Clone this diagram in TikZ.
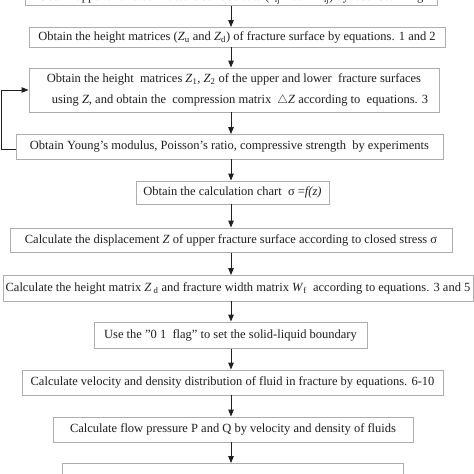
\documentclass[tikz,border=0pt]{standalone}
\usepackage{fontspec}
\setmainfont{Liberation Serif}
\usetikzlibrary{arrows.meta}

\tikzset{
  box/.style={draw=black!32, line width=0.9pt, inner sep=1pt, text=black!88,
    font=\fontsize{12.5}{21.5}\selectfont},
  arr/.style={-{Triangle[length=7pt,width=5.5pt]}, line width=1pt, black!88}
}
\newcommand{\Zit}{\textit{Z}}

\begin{document}
\begin{tikzpicture}[x=1pt, y=-1pt]
\clip (0,0) rectangle (474,474);
\fill[white] (0,0) rectangle (474,474);
\coordinate (ax) at (231,0);
% boxes
\node[box, minimum width=412pt, minimum height=14pt] (b0) at (231,-2) {Obtain upper and lower fracture surface data (\textit{x}\textsubscript{ij} matrix \textit{z}\textsubscript{ij}) by laser scanning};
\node[box, minimum width=416pt, minimum height=19.5pt] (b1) at (237,37.25) {Obtain the height matrices (\Zit\textsubscript{u} and \Zit\textsubscript{d}) of fracture surface by equations. 1 and 2};
\node[box, minimum width=410pt, minimum height=44pt, align=center] (b2) at (234,90) {Obtain the height\ \ matrices \Zit\textsubscript{1}, \Zit\textsubscript{2} of the upper and lower\ \ fracture surfaces\\ \hspace*{12pt}using \Zit, and obtain the\ \ compression matrix\ \ $\triangle$\Zit\ according to\ \ equations. 3};
\node[box, minimum width=427pt, minimum height=24.5pt] (b3) at (229.5,146.75) {Obtain Young's modulus, Poisson's ratio, compressive strength\ \ by experiments};
\node[box, minimum width=193pt, minimum height=23pt] (b4) at (232.5,192.5) {Obtain the calculation chart\ \ σ =\textit{f(z)}};
\node[box, minimum width=442pt, minimum height=24.5pt] (b5) at (231,240.25) {Calculate the displacement \Zit\ of upper fracture surface according to closed stress σ};
\node[box, minimum width=470pt, minimum height=25.5pt] (b6) at (238,288.25) {Calculate the height matrix \Zit\,\textsubscript{d} and fracture width matrix \textit{W}\textsubscript{f}\ \ according to equations. 3 and 5};
\node[box, minimum width=273pt, minimum height=26.5pt] (b7) at (230.5,335.25) {Use the "0 1\ \ flag" to set the solid-liquid boundary};
\node[box, minimum width=421pt, minimum height=25pt] (b8) at (232.5,382.5) {Calculate velocity and density distribution of fluid in fracture by equations. 6-10};
\node[box, minimum width=360pt, minimum height=25pt] (b9) at (233,429.5) {Calculate flow pressure P and Q by velocity and density of fluids};
\node[box, minimum width=341pt, minimum height=25pt] (b10) at (232.5,476) {};
% connectors
\draw[arr] (b0.south -| ax) -- (b1.north -| ax);
\draw[arr] (b1.south -| ax) -- (b2.north -| ax);
\draw[arr] (b2.south -| ax) -- (b3.north -| ax);
\draw[arr] (b3.south -| ax) -- (b4.north -| ax);
\draw[arr] (b4.south -| ax) -- (b5.north -| ax);
\draw[arr] (b5.south -| ax) -- (b6.north -| ax);
\draw[arr] (b6.south -| ax) -- (b7.north -| ax);
\draw[arr] (b7.south -| ax) -- (b8.north -| ax);
\draw[arr] (b8.south -| ax) -- (b9.north -| ax);
\draw[arr] (b9.south -| ax) -- (b10.north -| ax);
% feedback loop
\draw[arr] ([yshift=-3pt]b3.west) -- ++(-14.5,0) |- (b2.west);
\end{tikzpicture}
\end{document}
